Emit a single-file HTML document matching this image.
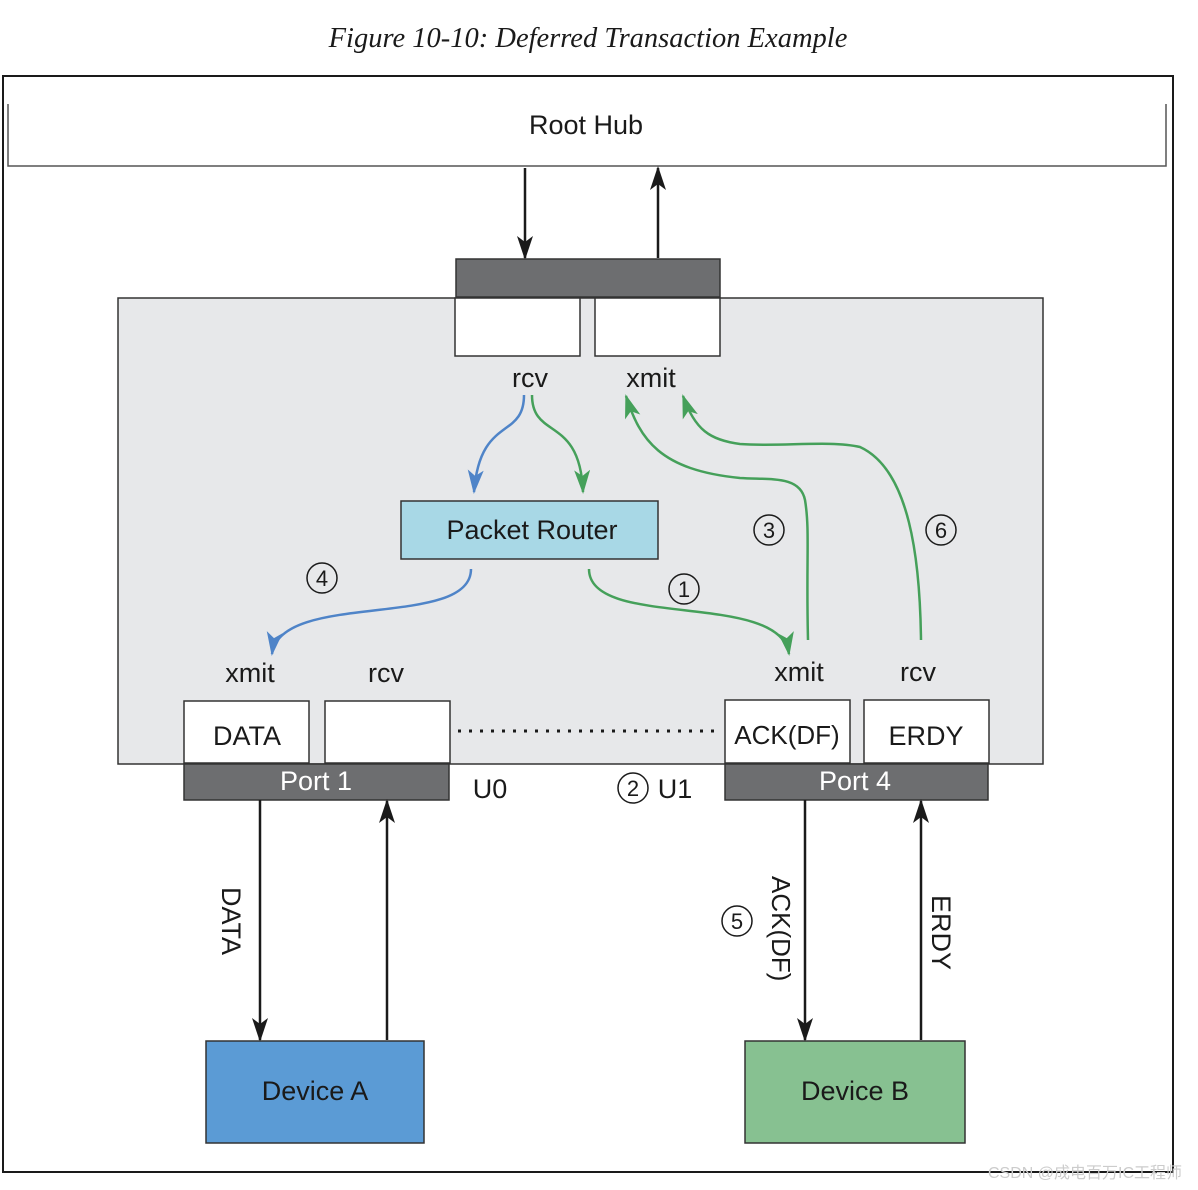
<!DOCTYPE html>
<html><head><meta charset="utf-8"><style>
html,body{margin:0;padding:0;background:#fff;width:1198px;height:1190px;overflow:hidden}
svg text{font-family:"Liberation Sans",sans-serif;fill:#1a1a1a}
</style></head><body>
<svg width="1198" height="1190" viewBox="0 0 1198 1190" xmlns="http://www.w3.org/2000/svg">
<defs>
<marker id="ak" markerWidth="24" markerHeight="18" refX="22" refY="8" orient="auto" markerUnits="userSpaceOnUse"><path d="M0,0 L24,8 L0,16 L6,8z" fill="#1a1a1a"/></marker>
<marker id="ag" markerWidth="24" markerHeight="18" refX="22" refY="8" orient="auto" markerUnits="userSpaceOnUse"><path d="M0,0 L24,8 L0,16 L6,8z" fill="#45a05a"/></marker>
<marker id="ab" markerWidth="24" markerHeight="18" refX="22" refY="8" orient="auto" markerUnits="userSpaceOnUse"><path d="M0,0 L24,8 L0,16 L6,8z" fill="#4f84c8"/></marker>
</defs>
<text x="588" y="47" text-anchor="middle" style="font-family:'Liberation Serif',serif;font-style:italic;font-size:28.5px">Figure 10-10: Deferred Transaction Example</text>
<rect x="3" y="76" width="1170" height="1096" fill="none" stroke="#1a1a1a" stroke-width="2"/>
<path d="M8,104 V166 H1166 V104" fill="none" stroke="#555" stroke-width="1.5"/>
<text x="586" y="134" text-anchor="middle" font-size="27">Root Hub</text>
<rect x="118" y="298" width="925" height="466" fill="#e7e8ea" stroke="#333" stroke-width="1.5"/>
<line x1="525" y1="168" x2="525" y2="258" stroke="#1a1a1a" stroke-width="2.5" marker-end="url(#ak)"/>
<line x1="658" y1="258" x2="658" y2="168" stroke="#1a1a1a" stroke-width="2.5" marker-end="url(#ak)"/>
<rect x="456" y="259" width="264" height="38" fill="#6d6e70" stroke="#333" stroke-width="1.5"/>
<rect x="455" y="298" width="125" height="58" fill="#fff" stroke="#333" stroke-width="1.5"/>
<rect x="595" y="298" width="125" height="58" fill="#fff" stroke="#333" stroke-width="1.5"/>
<text x="530" y="387" text-anchor="middle" font-size="27">rcv</text>
<text x="651" y="387" text-anchor="middle" font-size="27">xmit</text>
<rect x="401" y="501" width="257" height="58" fill="#a8d8e6" stroke="#333" stroke-width="1.5"/>
<text x="532" y="539" text-anchor="middle" font-size="27">Packet Router</text>
<g fill="none" stroke-width="2.5">
<path d="M524,395 C524,440 480,415 474,492" stroke="#4f84c8" marker-end="url(#ab)"/>
<path d="M532,395 C532,440 580,415 583,492" stroke="#45a05a" marker-end="url(#ag)"/>
<path d="M471,569 C471,630 280,590 272,654" stroke="#4f84c8" marker-end="url(#ab)"/>
<path d="M589,569 C589,630 780,590 789,654" stroke="#45a05a" marker-end="url(#ag)"/>
<path d="M808,640 C806,560 810,530 805,500 C800,475 770,480 740,478 C660,470 640,440 626,396" stroke="#45a05a" marker-end="url(#ag)"/>
<path d="M921,640 C920,560 910,470 860,447 C830,440 780,447 740,444 C710,440 695,430 683,396" stroke="#45a05a" marker-end="url(#ag)"/>
</g>
<g font-size="22" text-anchor="middle">
<circle cx="322" cy="578" r="15" fill="none" stroke="#1a1a1a" stroke-width="1.5"/><text x="322" y="586">4</text>
<circle cx="684" cy="589" r="15" fill="none" stroke="#1a1a1a" stroke-width="1.5"/><text x="684" y="597">1</text>
<circle cx="769" cy="530" r="15" fill="none" stroke="#1a1a1a" stroke-width="1.5"/><text x="769" y="538">3</text>
<circle cx="941" cy="530" r="15" fill="none" stroke="#1a1a1a" stroke-width="1.5"/><text x="941" y="538">6</text>
<circle cx="633" cy="788" r="15" fill="none" stroke="#1a1a1a" stroke-width="1.5"/><text x="633" y="796">2</text>
<circle cx="737" cy="921" r="15" fill="none" stroke="#1a1a1a" stroke-width="1.5"/><text x="737" y="929">5</text>
</g>
<text x="250" y="682" text-anchor="middle" font-size="27">xmit</text>
<text x="386" y="682" text-anchor="middle" font-size="27">rcv</text>
<text x="799" y="681" text-anchor="middle" font-size="27">xmit</text>
<text x="918" y="681" text-anchor="middle" font-size="27">rcv</text>
<rect x="184" y="701" width="125" height="62" fill="#fff" stroke="#333" stroke-width="1.5"/>
<rect x="325" y="701" width="125" height="62" fill="#fff" stroke="#333" stroke-width="1.5"/>
<rect x="725" y="700" width="125" height="63" fill="#fff" stroke="#333" stroke-width="1.5"/>
<rect x="864" y="700" width="125" height="63" fill="#fff" stroke="#333" stroke-width="1.5"/>
<text x="247" y="745" text-anchor="middle" font-size="27">DATA</text>
<text x="787" y="744" text-anchor="middle" font-size="26">ACK(DF)</text>
<text x="926" y="745" text-anchor="middle" font-size="27">ERDY</text>
<line x1="458" y1="731" x2="716" y2="731" stroke="#1a1a1a" stroke-width="3" stroke-dasharray="3,8"/>
<rect x="184" y="764" width="265" height="36" fill="#6d6e70" stroke="#333" stroke-width="1.5"/>
<rect x="725" y="764" width="263" height="36" fill="#6d6e70" stroke="#333" stroke-width="1.5"/>
<text x="316" y="790" text-anchor="middle" font-size="27" style="fill:#fff">Port 1</text>
<text x="855" y="790" text-anchor="middle" font-size="27" style="fill:#fff">Port 4</text>
<text x="490" y="798" text-anchor="middle" font-size="27">U0</text>
<text x="675" y="798" text-anchor="middle" font-size="27">U1</text>
<line x1="260" y1="800" x2="260" y2="1040" stroke="#1a1a1a" stroke-width="2.5" marker-end="url(#ak)"/>
<line x1="387" y1="1040" x2="387" y2="801" stroke="#1a1a1a" stroke-width="2.5" marker-end="url(#ak)"/>
<line x1="805" y1="800" x2="805" y2="1040" stroke="#1a1a1a" stroke-width="2.5" marker-end="url(#ak)"/>
<line x1="921" y1="1040" x2="921" y2="801" stroke="#1a1a1a" stroke-width="2.5" marker-end="url(#ak)"/>
<text transform="translate(222,887) rotate(90)" font-size="27">DATA</text>
<text transform="translate(772,876) rotate(90)" font-size="26">ACK(DF)</text>
<text transform="translate(932,895) rotate(90)" font-size="27">ERDY</text>
<rect x="206" y="1041" width="218" height="102" fill="#5b9bd5" stroke="#333" stroke-width="1.5"/>
<rect x="745" y="1041" width="220" height="102" fill="#87c191" stroke="#333" stroke-width="1.5"/>
<text x="315" y="1100" text-anchor="middle" font-size="27">Device A</text>
<text x="855" y="1100" text-anchor="middle" font-size="27">Device B</text>
<text x="1182" y="1178" text-anchor="end" font-size="16" style="fill:#ccc;font-family:'Liberation Sans','Noto Sans CJK SC',sans-serif">CSDN @成电百万IC工程师</text>
</svg>
</body></html>
